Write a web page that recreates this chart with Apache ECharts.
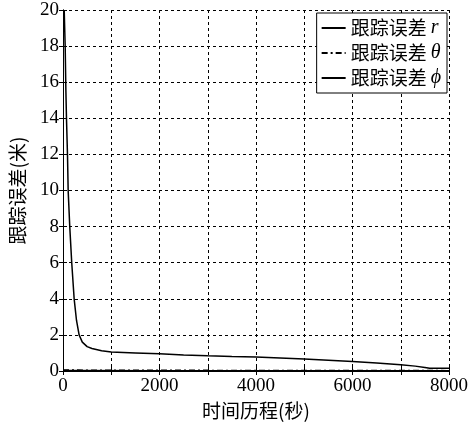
<!DOCTYPE html>
<html>
<head>
<meta charset="utf-8">
<script src="https://cdn.jsdelivr.net/npm/echarts@6/dist/echarts.min.js"></script>
<style>html,body{margin:0;padding:0;background:#fff}#c{width:474px;height:430px}</style>
</head>
<body>
<div id="c"></div>
<script>
var seriesNames = ['跟踪误差r', '跟踪误差θ', '跟踪误差ϕ'];
var rTimes = [25, 45, 60, 72, 93, 107, 140, 181, 231, 280, 334, 400, 500, 600, 800, 1000, 1500, 2000, 2500, 3000, 3500, 4000, 4500, 5000, 5500, 6000, 6500, 7000, 7300, 7500, 7600, 8000];
var rValues = [20, 18, 15.5, 14, 12, 10, 8, 6, 4, 2.8, 2, 1.6, 1.35, 1.25, 1.12, 1.05, 1.0, 0.95, 0.89, 0.84, 0.8, 0.77, 0.72, 0.67, 0.6, 0.53, 0.44, 0.34, 0.27, 0.2, 0.15, 0.15];
var thetaTimes = [0, 2000, 4000, 6000, 8000];
var thetaValues = [0.05, 0.04, 0.03, 0.03, 0.02];
var phiTimes = [0, 2000, 4000, 6000, 8000];
var phiValues = [0.03, 0.02, 0.02, 0.02, 0.01];
var xTickLabels = [0, 2000, 4000, 6000, 8000];

function pairs(ts, vs) { return ts.map(function (t, i) { return [t, vs[i]]; }); }

var serif = '"Liberation Serif", "DejaVu Serif", "Noto Sans CJK SC", serif';

var chart = echarts.init(document.getElementById('c'));
chart.setOption({
  animation: false,
  backgroundColor: '#fff',
  grid: { left: 61, right: 25, top: 10, bottom: 59 },
  legend: {
    orient: 'vertical',
    right: 27,
    top: 13,
    padding: [5, 6, 5, 4],
    itemGap: 5,
    itemWidth: 24,
    itemHeight: 14,
    borderColor: '#000',
    borderWidth: 1,
    backgroundColor: '#fff',
    data: seriesNames,
    itemStyle: { opacity: 0 },
    formatter: function (n) { return '{a|' + n.slice(0, 4) + '}{b|' + n.slice(4) + '}'; },
    textStyle: {
      color: '#000',
      rich: {
        a: { fontFamily: '"Noto Sans CJK SC"', fontSize: 19, color: '#000', lineHeight: 20 },
        b: { fontFamily: '"Liberation Serif", "DejaVu Serif", serif', fontStyle: 'italic', fontSize: 20, color: '#000', padding: [0, 0, 0, 4] }
      }
    }
  },
  xAxis: [{
    type: 'value', min: 0, max: 8000, interval: 1000,
    name: '时间历程(秒)', nameLocation: 'middle', nameGap: 27,
    nameTextStyle: { fontFamily: '"Noto Sans CJK SC"', fontSize: 19, color: '#000' },
    axisLine: { lineStyle: { color: '#000', width: 1 } },
    axisTick: { inside: true, length: 4, lineStyle: { color: '#000' } },
    axisLabel: {
      color: '#000', fontFamily: serif, fontSize: 19, margin: 6,
      formatter: function (v) { return xTickLabels.indexOf(v) >= 0 ? String(v) : ''; }
    },
    splitLine: { show: true, lineStyle: { color: '#000', type: [3, 3], width: 1 } }
  }, {
    type: 'value', min: 0, max: 8000, interval: 1000, position: 'top',
    axisLine: { lineStyle: { color: '#000', width: 1 } },
    axisTick: { inside: true, length: 4, lineStyle: { color: '#000' } },
    axisLabel: { show: false }, splitLine: { show: false }
  }],
  yAxis: [{
    type: 'value', min: 0, max: 20, interval: 2,
    name: '跟踪误差(米)', nameLocation: 'middle', nameGap: 36, nameRotate: 90,
    nameTextStyle: { fontFamily: '"Noto Sans CJK SC"', fontSize: 19, color: '#000' },
    axisLine: { show: true, lineStyle: { color: '#000', width: 1 } },
    axisTick: { show: true, inside: true, length: 4, lineStyle: { color: '#000' } },
    axisLabel: { color: '#000', fontFamily: serif, fontSize: 19, margin: 4 },
    splitLine: { show: true, lineStyle: { color: '#000', type: [3, 3], width: 1 } }
  }, {
    type: 'value', min: 0, max: 20, interval: 2, position: 'right',
    axisLine: { show: true, lineStyle: { color: '#000', width: 1 } },
    axisTick: { show: true, inside: true, length: 4, lineStyle: { color: '#000' } },
    axisLabel: { show: false }, splitLine: { show: false }
  }],
  series: [{
    name: seriesNames[0], type: 'line', symbol: 'none', clip: true,
    data: pairs(rTimes, rValues),
    lineStyle: { color: '#000', width: 1.5, type: 'solid' },
    itemStyle: { color: '#000' }, z: 5
  }, {
    name: seriesNames[1], type: 'line', symbol: 'none', clip: true,
    data: pairs(thetaTimes, thetaValues),
    lineStyle: { color: '#000', width: 1.5, type: [6, 3, 2, 3] },
    itemStyle: { color: '#000' }, z: 4
  }, {
    name: seriesNames[2], type: 'line', symbol: 'none', clip: true,
    data: pairs(phiTimes, phiValues),
    lineStyle: { color: '#000', width: 1.5, type: 'solid' },
    itemStyle: { color: '#000' }, z: 4
  }]
});
</script>
</body>
</html>
